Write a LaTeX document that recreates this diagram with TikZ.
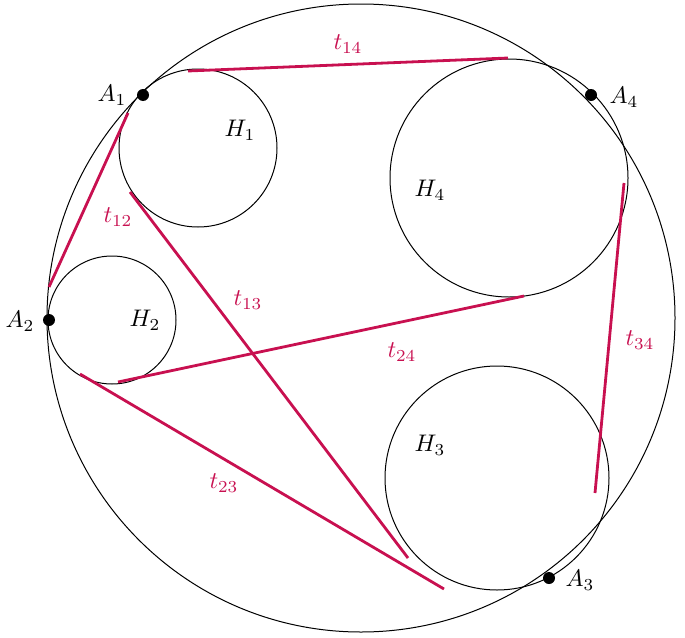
\documentclass[tikz,border=0pt]{standalone}
\newcommand{\BL}[1]{\scalebox{2.4}{$#1$}}
\begin{document}
\begin{tikzpicture}[x=1pt,y=-1pt,
  circ/.style={draw=black,line width=1pt},
  tang/.style={draw={rgb,255:red,200;green,16;blue,80},line width=2.8pt},
  tlab/.style={text={rgb,255:red,200;green,16;blue,80}},
  lab/.style={},
  pt/.style={circle,fill=black,inner sep=0pt,minimum size=12pt}]
\useasboundingbox (0,0) rectangle (685,637);
\draw[circ] (361,318) circle (314);
\draw[circ] (198,148) circle (79);
\draw[circ] (112,320) circle (64);
\draw[circ] (497,478) circle (112);
\draw[circ] (509,178) circle (119);
\draw[tang] (188,71) -- (508,58);
\draw[tang] (128,113) -- (49,287);
\draw[tang] (130,192) -- (408,558);
\draw[tang] (118,382) -- (524,296);
\draw[tang] (624,183) -- (595,493);
\draw[tang] (80,374) -- (444,589);
\node[tlab] (l14) at (348,44) {\BL{t_{14}}};
\node[tlab] (l12) at (118,217) {\BL{t_{12}}};
\node[tlab] (l13) at (248,300) {\BL{t_{13}}};
\node[tlab] (l24) at (402,352) {\BL{t_{24}}};
\node[tlab] (l34) at (640,340) {\BL{t_{34}}};
\node[tlab] (l23) at (224,483) {\BL{t_{23}}};
\node[lab] (h1) at (240,130) {\BL{H_1}};
\node[lab] (h2) at (145,320) {\BL{H_2}};
\node[lab] (h3) at (430,445) {\BL{H_3}};
\node[lab] (h4) at (430,190) {\BL{H_4}};
\node[pt] (a1) at (143,95) {};
\node[pt] (a2) at (49,320) {};
\node[pt] (a3) at (549,578) {};
\node[pt] (a4) at (591,95) {};
\node[lab] at (112,95) {\BL{A_1}};
\node[lab] at (20,321) {\BL{A_2}};
\node[lab] at (580,580) {\BL{A_3}};
\node[lab] at (624,97) {\BL{A_4}};
\end{tikzpicture}
\end{document}
